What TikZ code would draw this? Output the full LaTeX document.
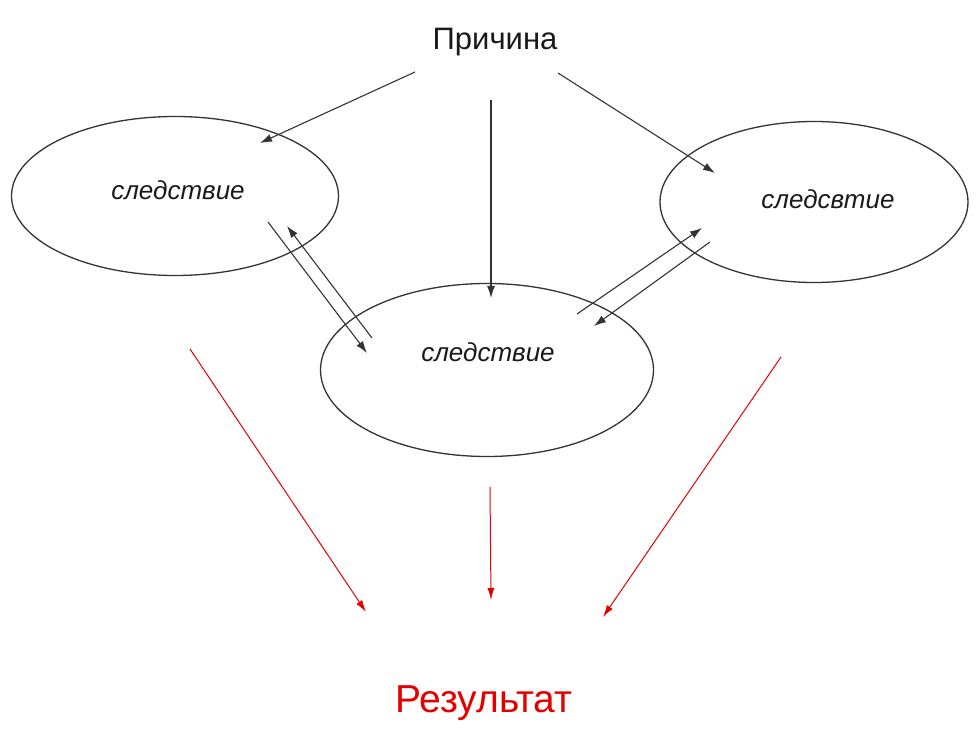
\documentclass[tikz,border=0pt]{standalone}
\usepackage{fontspec}
\setmainfont{Liberation Sans}
\usetikzlibrary{arrows.meta,positioning,shapes.geometric}

\begin{document}
\begin{tikzpicture}[
  x=1pt, y=-1pt,
  effect/.style={ellipse, draw=black!80, line width=1.3pt, inner sep=0pt, outer sep=0pt},
  effecttext/.style={font=\itshape\fontsize{26}{30}\selectfont, text=black!90},
  arrow/.style={-{Latex[length=12pt, width=8pt]}, line width=1.1pt, black!80},
  redarrow/.style={-{Latex[length=12pt, width=7pt]}, line width=1pt, red!90!black}
]
\useasboundingbox (0,0) rectangle (978,746);

\node[font=\fontsize{31}{36}\selectfont, text=black!90] (cause) at (495,42) {Причина};
\node[font=\fontsize{39}{44}\selectfont, text=red!90!black] (result) at (484,703) {Результат};

\node[effect, minimum width=327pt, minimum height=159pt] (left) at (175,196) {};
\node[effect, minimum width=308pt, minimum height=161pt] (right) at (814,202) {};
\node[effect, minimum width=333pt, minimum height=173pt] (middle) at (487,370) {};

\node[effecttext] (lefttext) at (178,190) {следствие};
\node[effecttext] (middletext) at (488,352) {следствие};
\node[effecttext] (righttext) at (828,199) {следсвтие};

% free ends of the connectors
\coordinate (causeL) at (415,72);   \coordinate (leftIn) at (260,143);
\coordinate (causeM) at (491,100);  \coordinate (middleIn) at (491,298);
\coordinate (causeR) at (558,73);   \coordinate (rightIn) at (715,173);
\coordinate (leftA) at (268,222);   \coordinate (middleA) at (367,353);
\coordinate (middleB) at (372,338); \coordinate (leftB) at (287,226);
\coordinate (middleC) at (577,314); \coordinate (rightC) at (702,228);
\coordinate (rightD) at (710,242);  \coordinate (middleD) at (594,326);
\coordinate (leftOut) at (190,349);   \coordinate (resultL) at (366,612);
\coordinate (middleOut) at (490,487); \coordinate (resultM) at (491,600);
\coordinate (rightOut) at (781,357);  \coordinate (resultR) at (603,617);

\draw[arrow] (causeL) -- (leftIn);
\draw[arrow] (causeM) -- (middleIn);
\draw[arrow] (causeR) -- (rightIn);
\draw[arrow] (leftA) -- (middleA);
\draw[arrow] (middleB) -- (leftB);
\draw[arrow] (middleC) -- (rightC);
\draw[arrow] (rightD) -- (middleD);

\draw[redarrow] (leftOut) -- (resultL);
\draw[redarrow] (middleOut) -- (resultM);
\draw[redarrow] (rightOut) -- (resultR);

\end{tikzpicture}
\end{document}
